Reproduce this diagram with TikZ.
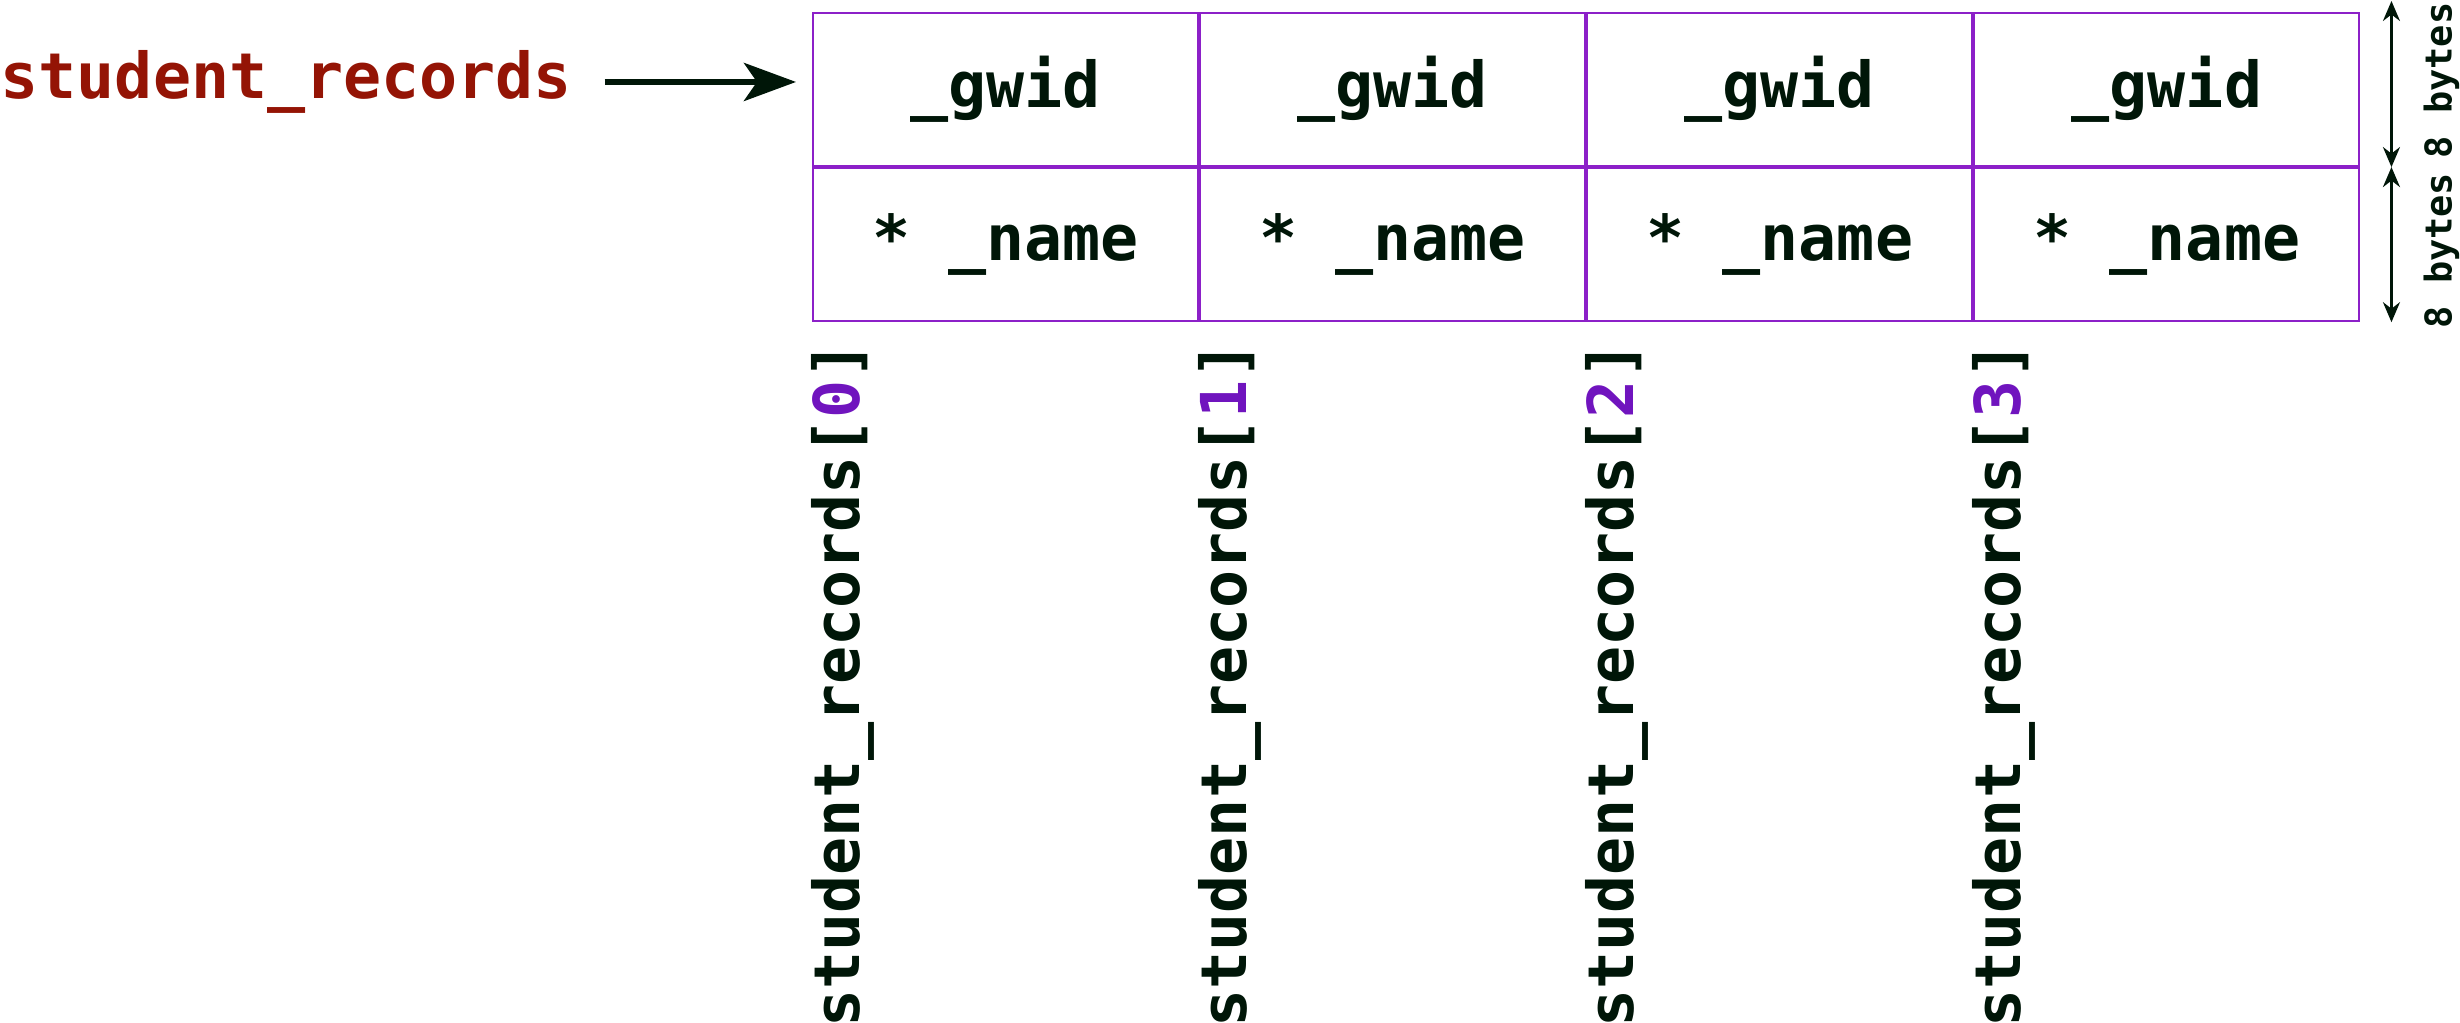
\documentclass[tikz,border=0pt]{standalone}
\usepackage{fontspec}
\setmonofont{DejaVu Sans Mono}
\usetikzlibrary{positioning,arrows.meta}
\definecolor{recpurple}{RGB}{140,32,200}
\definecolor{idxpurple}{RGB}{112,20,190}
\definecolor{recred}{RGB}{148,20,5}
\definecolor{recink}{RGB}{0,22,8}
\begin{document}
\begin{tikzpicture}[
cellnode/.style={rectangle, draw=recpurple, line width=0.6pt, minimum width=3.85cm, minimum height=1.53cm, inner sep=0pt, text=recink, font=\ttfamily\bfseries\fontsize{18}{20}\selectfont},
reclabel/.style={inner sep=0pt, text=recred, font=\ttfamily\bfseries\fontsize{18}{20}\selectfont},
idxlabel/.style={rotate=90, anchor=base east, inner sep=0pt, text=recink, font=\ttfamily\bfseries\fontsize{18}{20}\selectfont},
bytelabel/.style={rotate=90, inner sep=0pt, text=recink, font=\ttfamily\bfseries\fontsize{10.5}{12}\selectfont},
ptrarrow/.style={-{Stealth[length=0.52cm, width=0.38cm, inset=0.13cm]}, line width=1.8pt, draw=recink},
dimarrow/.style={{Stealth[length=0.2cm, width=0.17cm]}-{Stealth[length=0.2cm, width=0.17cm]}, line width=0.8pt, draw=recink},
]
\useasboundingbox (0,0) rectangle (24.6,10.23);
%Nodes
\node[cellnode, anchor=north west](g0) at (8.12,10.11) {\_gwid};
\node[cellnode, right=0pt of g0](g1) {\_gwid};
\node[cellnode, right=0pt of g1](g2) {\_gwid};
\node[cellnode, right=0pt of g2](g3) {\_gwid};
\node[cellnode, below=0pt of g0](n0) {* \_name};
\node[cellnode, right=0pt of n0](n1) {* \_name};
\node[cellnode, right=0pt of n1](n2) {* \_name};
\node[cellnode, right=0pt of n2](n3) {* \_name};

\node[reclabel, anchor=west](srname) at (0,9.41) {student\_records};

\node[idxlabel](idx0) at ([xshift=0.47cm, yshift=-0.19cm]n0.south west) {student\_records[\textcolor{idxpurple}{0}]};
\node[idxlabel](idx1) at ([xshift=0.47cm, yshift=-0.19cm]n1.south west) {student\_records[\textcolor{idxpurple}{1}]};
\node[idxlabel](idx2) at ([xshift=0.47cm, yshift=-0.19cm]n2.south west) {student\_records[\textcolor{idxpurple}{2}]};
\node[idxlabel](idx3) at ([xshift=0.47cm, yshift=-0.19cm]n3.south west) {student\_records[\textcolor{idxpurple}{3}]};

\coordinate (dtop) at ([xshift=0.31cm, yshift=0.11cm]g3.north east);
\coordinate (dmid) at ([xshift=0.31cm]g3.south east);
\coordinate (dbot) at ([xshift=0.31cm]n3.south east);
\node[bytelabel](sz0) at ([xshift=0.81cm, yshift=0.09cm]g3.east) {8 bytes};
\node[bytelabel](sz1) at ([xshift=0.81cm, yshift=-0.06cm]n3.east) {8 bytes};

%Arrows
\draw[ptrarrow, shorten <=0.32cm, shorten >=0.16cm] (srname.east) -- (srname.east -| g0.west);
\draw[dimarrow] (dtop) -- (dmid);
\draw[dimarrow] (dmid) -- (dbot);
\end{tikzpicture}
\end{document}
